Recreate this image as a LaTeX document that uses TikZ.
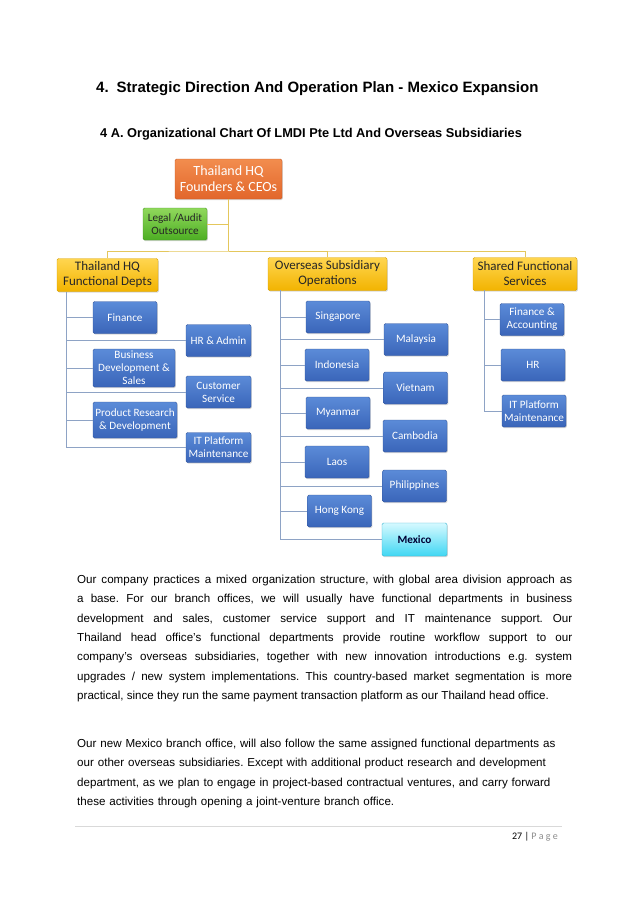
\documentclass[tikz,border=0pt]{standalone}
\usepackage{fontspec}
\setmainfont{Liberation Sans}
\newfontfamily\boxfont{Carlito}
\usetikzlibrary{shadows}
\frenchspacing
% colours of the chart
\definecolor{ceotop}{HTML}{F28D4E}
\definecolor{ceobot}{HTML}{E2662B}
\definecolor{ceoedge}{HTML}{C95B24}
\definecolor{legaltop}{HTML}{90D85C}
\definecolor{legalbot}{HTML}{4DAE23}
\definecolor{legaledge}{HTML}{489A25}
\definecolor{headtop}{HTML}{FFD650}
\definecolor{headbot}{HTML}{F2B300}
\definecolor{headedge}{HTML}{D9A100}
\definecolor{deptop}{HTML}{5B8BD8}
\definecolor{depbot}{HTML}{3A65B9}
\definecolor{depedge}{HTML}{35599F}
\definecolor{mextop}{HTML}{D6F9FF}
\definecolor{mexbot}{HTML}{40D7F3}
\definecolor{mexedge}{HTML}{3DB7D2}
\definecolor{yellowline}{HTML}{E4C75C}
\definecolor{blueline}{HTML}{8EA3C5}
\tikzset{
  box/.style={rounded corners=1.5pt, align=center, inner sep=1pt,
    font=\boxfont\fontsize{11.2}{13}\selectfont,
    drop shadow={opacity=0.3,shadow xshift=0.8pt,shadow yshift=-1.2pt}},
  ceobox/.style={box, top color=ceotop, bottom color=ceobot, draw=ceoedge,
    text=white, minimum width=107pt, minimum height=40pt,
    font=\boxfont\fontsize{14}{16}\selectfont},
  legalbox/.style={box, top color=legaltop, bottom color=legalbot, draw=legaledge,
    text=black!85, minimum width=64pt, minimum height=32pt},
  headbox/.style={box, top color=headtop, bottom color=headbot, draw=headedge,
    text=black!85, minimum height=33pt, font=\boxfont\fontsize{13}{15}\selectfont},
  deptbox/.style={box, top color=deptop, bottom color=depbot, draw=depedge,
    text=white, minimum width=64pt, minimum height=32pt},
  mexbox/.style={box, top color=mextop, bottom color=mexbot, draw=mexedge,
    text=black!80!blue, minimum width=65pt, minimum height=33pt,
    font=\boxfont\bfseries\fontsize{11.2}{13}\selectfont},
  yline/.style={yellowline, line width=0.8pt},
  bline/.style={blueline, line width=0.8pt},
}
\begin{document}
\begin{tikzpicture}[x=1pt,y=-1pt]
\fill[white] (0,0) rectangle (638,903);
\useasboundingbox (0,0) rectangle (638,903);
%
% headings
\node[anchor=base west, inner sep=0, font=\bfseries\fontsize{15}{18}\selectfont] (title) at (96,92)
  {4.\hspace{8pt}Strategic Direction And Operation Plan - Mexico Expansion};
\node[anchor=base west, inner sep=0, font=\bfseries\fontsize{12.8}{15}\selectfont] (subtitle) at (100,137.7)
  {4 A. Organizational Chart Of LMDI Pte Ltd And Overseas Subsidiaries};
%
% top of the chart
\node[ceobox] (ceo) at (228.5,179) {Thailand HQ\\Founders \& CEOs};
\node[legalbox] (legal) at (175,224) {Legal /Audit\\Outsource};
\node[headbox, minimum width=101pt] (depts) at (107.5,275) {Thailand HQ\\Functional Depts};
\node[headbox, minimum width=119pt] (ops) at (327.5,274) {Overseas Subsidiary\\Operations};
\node[headbox, minimum width=104pt] (shared) at (525,274) {Shared Functional\\Services};
%
% Thailand HQ departments
\node[deptbox] (finance) at (125,317.5) {Finance};
\node[deptbox, minimum width=65pt] (hradmin) at (218.5,340.5) {HR \& Admin};
\node[deptbox, minimum width=82pt, minimum height=38pt] (busdev) at (134,368) {Business\\Development \&\\Sales};
\node[deptbox, minimum width=65pt] (custsvc) at (218.5,392) {Customer\\Service};
\node[deptbox, minimum width=84pt, minimum height=36pt] (prodrd) at (135,420) {Product Research\\\& Development};
\node[deptbox, minimum width=65pt, minimum height=30pt] (itleft) at (218.5,447.5) {IT Platform\\Maintenance};
%
% overseas subsidiaries
\node[deptbox] (sgp) at (338,317) {Singapore};
\node[deptbox] (mys) at (416,339.5) {Malaysia};
\node[deptbox] (idn) at (337,365) {Indonesia};
\node[deptbox] (vnm) at (415.5,388) {Vietnam};
\node[deptbox] (mmr) at (338,413) {Myanmar};
\node[deptbox] (khm) at (415,436) {Cambodia};
\node[deptbox] (lao) at (337,462) {Laos};
\node[deptbox] (phl) at (414.5,486) {Philippines};
\node[deptbox] (hkg) at (339.5,511) {Hong Kong};
\node[mexbox] (mex) at (414.5,539.5) {Mexico};
%
% shared services
\node[deptbox] (finacc) at (532,319.5) {Finance \&\\Accounting};
\node[deptbox] (hr) at (533,365) {HR};
\node[deptbox] (itright) at (534,411) {IT Platform\\Maintenance};
%
% connectors
\coordinate (bus) at (228.5,251);
\draw[yline] (ceo.south) -- (bus);
\draw[yline] (legal.east) -- (legal.east -| ceo.south);
\draw[yline] (depts.north) |- (bus) -| (shared.north);
\draw[yline] (ops.north) |- (bus);
\coordinate (spL) at (66.7,292);
\coordinate (spM) at (280,290);
\coordinate (spR) at (484,290);
\foreach \n in {finance,hradmin,busdev,custsvc,prodrd,itleft}
  \draw[bline] (spL) |- (\n.west);
\foreach \n in {sgp,mys,idn,vnm,mmr,khm,lao,phl,hkg,mex}
  \draw[bline] (spM) |- (\n.west);
\foreach \n in {finacc,hr,itright}
  \draw[bline] (spR) |- (\n.west);
%
% text below the chart
\node[anchor=north west, inner sep=0, text width=495pt, align=justify,
  font=\fontsize{11.6}{19.3}\selectfont] (para1) at (77,575)
  {Our company practices a mixed organization structure, with global area division approach as\linebreak
   a base. For our branch offices, we will usually have functional departments in business\linebreak
   development and sales, customer service support and IT maintenance support. Our\linebreak
   Thailand head office’s functional departments provide routine workflow support to our\linebreak
   company’s overseas subsidiaries, together with new innovation introductions e.g. system\linebreak
   upgrades / new system implementations. This country-based market segmentation is more\linebreak
   practical, since they run the same payment transaction platform as our Thailand head office.};
\node[anchor=north west, inner sep=0, text width=495pt, align=left,
  font=\fontsize{11.6}{19.3}\selectfont] (para2) at (77,739)
  {Our new Mexico branch office, will also follow the same assigned functional departments as\\
   our other overseas subsidiaries. Except with additional product research and development\\
   department, as we plan to engage in project-based contractual ventures, and carry forward\\
   these activities through opening a joint-venture branch office.};
%
% footer
\draw[black!15, line width=0.6pt] (75,826) -- (562,826);
\node[anchor=base east, inner sep=0, font=\boxfont\fontsize{10}{12}\selectfont] (pagenum) at (558,839)
  {27 | \textcolor{black!45}{P a g e}};
\end{tikzpicture}
\end{document}
